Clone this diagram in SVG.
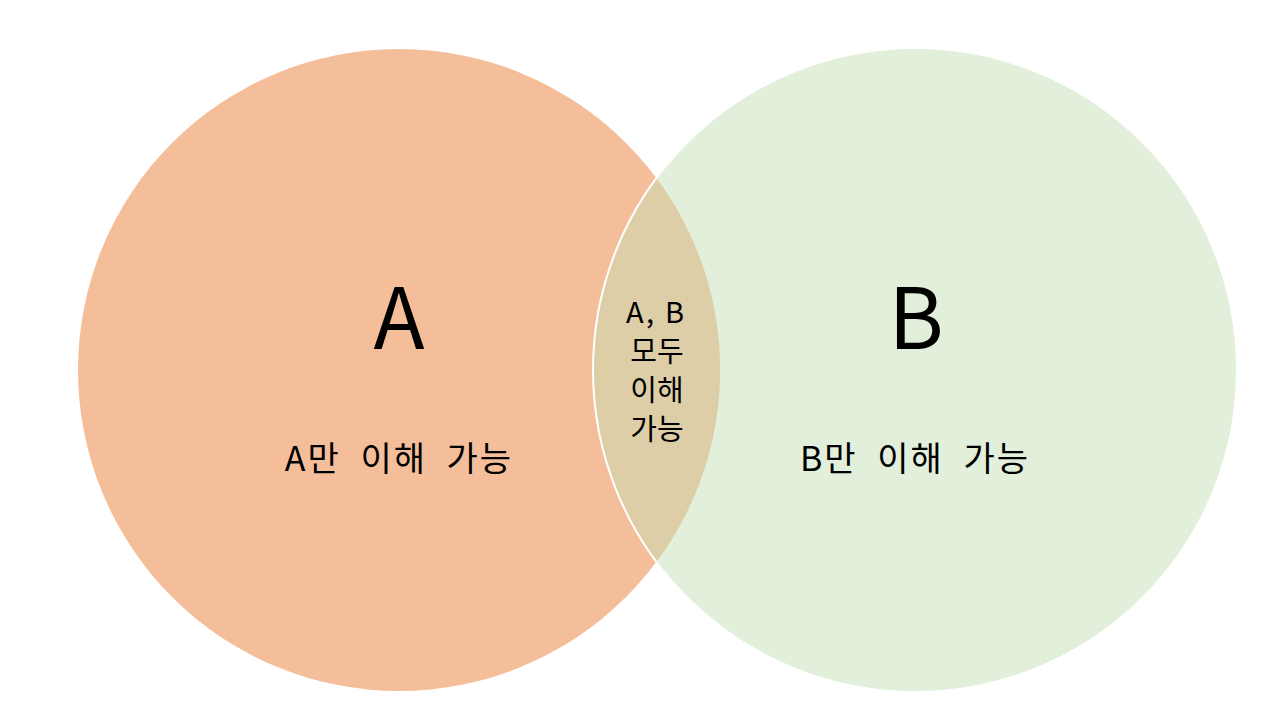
<svg xmlns="http://www.w3.org/2000/svg" width="1280" height="703" viewBox="0 0 1280 703">
<style>
text{font-family:"Noto Sans CJK KR","Noto Sans",sans-serif;fill:#000;text-anchor:middle}
.big{font-size:84px}
.lbl{font-size:34px;word-spacing:10px;letter-spacing:2px}
.mid{font-size:29px}
</style>
<rect width="1280" height="703" fill="#fff"/>
<g id="setA">
<circle cx="399" cy="370" r="321" fill="#F5BE9A"/>
</g>
<g id="setB">
<circle cx="915" cy="370" r="322" fill="#E2EFDA"/>
</g>
<g id="overlap">
<path d="M656.4,178 A321,321 0 0 1 656.4,562 A322,322 0 0 1 656.4,178 Z" fill="#DDCEA7"/>
</g>
<g id="connectors">
<circle cx="915" cy="370" r="322" fill="none" stroke="#fff" stroke-width="2"/>
</g>
<g id="labelA">
<text class="big" x="399" y="349">A</text>
<text class="lbl" x="399" y="471">A만 이해 가능</text>
</g>
<g id="labelB">
<text class="big" x="916" y="349">B</text>
<text class="lbl" x="915" y="471">B만 이해 가능</text>
</g>
<g id="labelAB">
<text class="mid" x="655" y="323" textLength="58" lengthAdjust="spacing">A, B</text>
<text class="mid" x="657" y="362">모두</text>
<text class="mid" x="657" y="401">이해</text>
<text class="mid" x="657" y="440">가능</text>
</g>
</svg>
